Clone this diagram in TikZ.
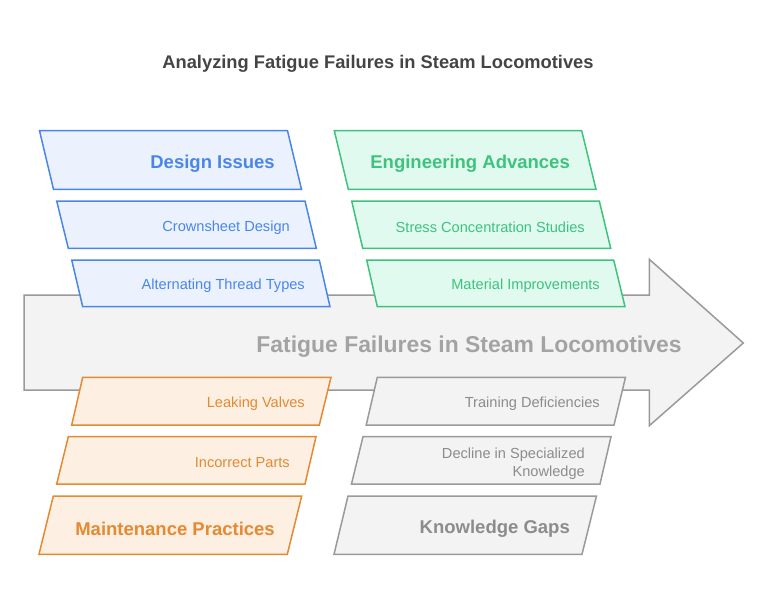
\documentclass[tikz,border=0pt]{standalone}
\usepackage{fontspec}
\setmainfont{Liberation Sans}
\definecolor{bstroke}{HTML}{4A86E8}
\definecolor{bfill}{HTML}{EBF2FE}
\definecolor{gstroke}{HTML}{3EC27D}
\definecolor{gfill}{HTML}{E0FAEF}
\definecolor{ostroke}{HTML}{E38A33}
\definecolor{ofill}{HTML}{FDEFE1}
\definecolor{kstroke}{HTML}{9A9A9A}
\definecolor{kfill}{HTML}{F3F3F3}
\definecolor{ktext}{HTML}{8C8C8C}
\definecolor{atext}{HTML}{A3A3A3}
\definecolor{ttext}{HTML}{444444}
\tikzset{
  box/.style={line width=1.5pt, line join=miter},
  bluebox/.style={box, draw=bstroke, fill=bfill},
  greenbox/.style={box, draw=gstroke, fill=gfill},
  orangebox/.style={box, draw=ostroke, fill=ofill},
  graybox/.style={box, draw=kstroke, fill=kfill},
  head/.style={anchor=east, inner sep=0pt, font=\fontsize{18.5}{21}\selectfont\bfseries},
  sub/.style={anchor=east, inner sep=0pt, font=\fontsize{14.6}{17.5}\selectfont, align=right},
}
\begin{document}
\begin{tikzpicture}[x=1pt,y=-1pt]
\useasboundingbox (0,0) rectangle (768,603);
% title
\node[font=\fontsize{18.3}{22}\selectfont\bfseries, text=ttext, inner sep=0pt] (title) at (378,63.5) {Analyzing Fatigue Failures in Steam Locomotives};
% big arrow
\draw[line width=1.5pt, draw=kstroke, fill=kfill, line join=miter]
  (24,295) -- (649.3,295) -- (649.3,259.3) -- (743.3,343) -- (649.3,425.7) -- (649.3,390) -- (24,390) -- cycle;
\node[font=\fontsize{22.9}{27}\selectfont\bfseries, text=atext, inner sep=0pt] (main) at (469,347) {Fatigue Failures in Steam Locomotives};
% blue
\draw[bluebox] (39.5,130.7) -- (287.5,130.7) -- (301.5,189.3) -- (53.5,189.3) -- cycle;
\draw[bluebox] (56.7,201) -- (305,201) -- (316.3,248.3) -- (68.3,248.3) -- cycle;
\draw[bluebox] (71.7,260) -- (319.3,260) -- (330,306.7) -- (82.7,306.7) -- cycle;
\node[head, text=bstroke] (design) at (275,163.5) {Design Issues};
\node[sub, text=bstroke] (crown) at (290,227.5) {Crownsheet Design};
\node[sub, text=bstroke] (alt) at (305,286) {Alternating Thread Types};
% green
\draw[greenbox] (334.3,130.7) -- (581.7,130.7) -- (596,189.3) -- (348.3,189.3) -- cycle;
\draw[greenbox] (351.7,201) -- (599.3,201) -- (610.7,248.3) -- (362.7,248.3) -- cycle;
\draw[greenbox] (366.7,260) -- (613.7,260) -- (625,306.7) -- (377.3,306.7) -- cycle;
\node[head, text=gstroke] (eng) at (570,163.5) {Engineering Advances};
\node[sub, text=gstroke] (stress) at (585,227.5) {Stress Concentration Studies};
\node[sub, text=gstroke] (mat) at (600,286) {Material Improvements};
% orange
\draw[orangebox] (82.7,377.3) -- (331,377.3) -- (319.3,425) -- (71.7,425) -- cycle;
\draw[orangebox] (68.3,436.7) -- (316,436.7) -- (305,484) -- (56.7,484) -- cycle;
\draw[orangebox] (53.3,496) -- (301.7,496) -- (287.3,554.3) -- (39,554.3) -- cycle;
\node[sub, text=ostroke] (leak) at (305,404) {Leaking Valves};
\node[sub, text=ostroke] (incorrect) at (290,463) {Incorrect Parts};
\node[head, text=ostroke] (maint) at (275,528.5) {Maintenance Practices};
% gray
\draw[graybox] (377.3,377.3) -- (625.5,377.3) -- (614,425) -- (366.2,425) -- cycle;
\draw[graybox] (363,436.7) -- (611,436.7) -- (600,484) -- (351.5,484) -- cycle;
\draw[graybox] (348,496) -- (596.5,496) -- (582,554.3) -- (334,554.3) -- cycle;
\node[sub, text=ktext] (train) at (600,404) {Training Deficiencies};
\node[sub, text=ktext] (decline) at (585,463.5) {Decline in Specialized\\Knowledge};
\node[head, text=ktext] (gaps) at (570,528.5) {Knowledge Gaps};
\end{tikzpicture}
\end{document}
